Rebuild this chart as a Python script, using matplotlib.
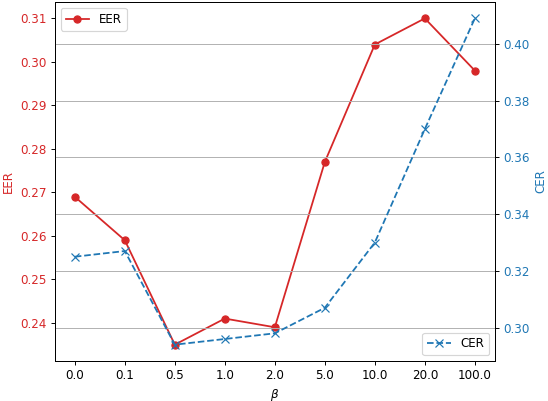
import matplotlib
matplotlib.use("Agg")
import matplotlib.pyplot as plt

betas = ["0.0", "0.1", "0.5", "1.0", "2.0", "5.0", "10.0", "20.0", "100.0"]
eer = [0.269, 0.259, 0.235, 0.241, 0.239, 0.277, 0.304, 0.310, 0.298]
cer = [0.325, 0.327, 0.294, 0.296, 0.298, 0.307, 0.330, 0.370, 0.409]

DPI = 85.6
fig = plt.figure(figsize=(548 / DPI, 401 / DPI), dpi=DPI)
ax1 = fig.add_axes([0.100, 0.0998, 0.803, 0.895])
x = list(range(len(betas)))
ax1.plot(x, eer, color="tab:red", marker="o", label="EER")
ax1.set_ylabel("EER", color="tab:red")
ax1.tick_params(axis="y", labelcolor="tab:red")
ax1.set_xticks(x)
ax1.set_xticklabels(betas)
ax1.set_xlabel(r"$\beta$")
ax1.legend(loc="upper left")

ax2 = ax1.twinx()
ax2.plot(x, cer, color="tab:blue", marker="x", linestyle="--", label="CER")
ax2.set_ylabel("CER", color="tab:blue")
ax2.tick_params(axis="y", labelcolor="tab:blue")
ax2.grid(True, axis="y", color="#b0b0b0")
ax2.legend(loc="lower right")

fig.savefig("out.png", dpi=DPI)
